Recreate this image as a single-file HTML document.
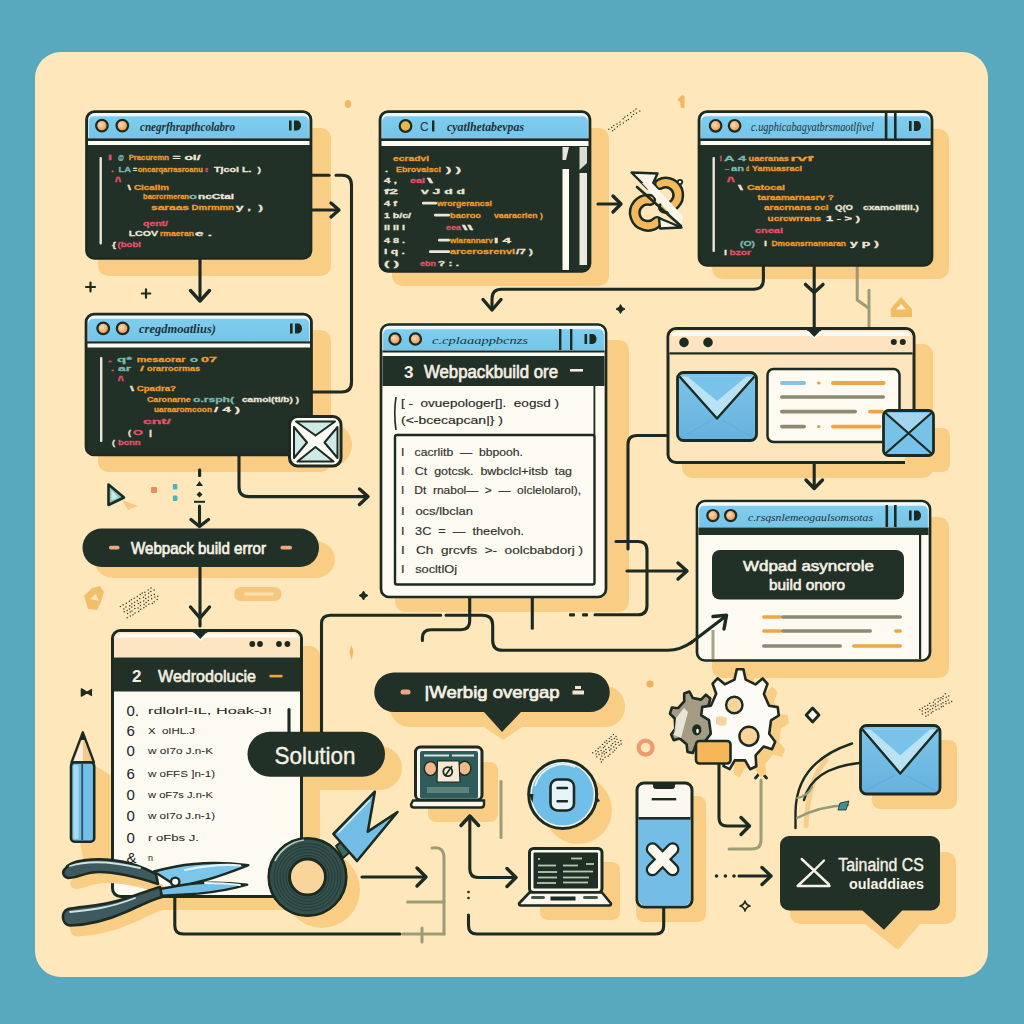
<!DOCTYPE html>
<html><head><meta charset="utf-8">
<style>
html,body{margin:0;padding:0;width:1024px;height:1024px;overflow:hidden;background:#58a8be;}
svg{position:absolute;left:0;top:0;}
text{font-family:"Liberation Sans",sans-serif;white-space:pre;}
</style></head>
<body>
<svg width="1024" height="1024" viewBox="0 0 1024 1024" xml:space="preserve">
<defs>
  <radialGradient id="dotg" cx="0.42" cy="0.42" r="0.65">
    <stop offset="0" stop-color="#f9dcb8"/><stop offset="1" stop-color="#e98636"/>
  </radialGradient>
  <linearGradient id="tb" x1="0" y1="0" x2="0" y2="1">
    <stop offset="0" stop-color="#80cdee"/><stop offset="1" stop-color="#74c5e8"/>
  </linearGradient>
  <linearGradient id="env" x1="0" y1="0" x2="0" y2="1">
    <stop offset="0" stop-color="#7cc5ea"/><stop offset="1" stop-color="#66b2dd"/>
  </linearGradient>
</defs>

<rect x="35" y="52" width="953" height="925" rx="26" fill="#fee8bb"/>
<g fill="#facd84">
<rect x="98" y="128" width="233" height="148" rx="10"/>
<rect x="392" y="128" width="217" height="158" rx="10"/>
<rect x="712" y="129" width="237" height="150" rx="10"/>
<rect x="98" y="330" width="233" height="142" rx="10"/>
<rect x="395" y="340" width="234" height="272" rx="10"/>
<rect x="682" y="344" width="251" height="134" rx="10"/>
<rect x="712" y="517" width="237" height="161" rx="10"/>
<rect x="94" y="541" width="241" height="37" rx="19"/>
<rect x="126" y="646" width="194" height="264" rx="10"/>
<rect x="390" y="686" width="235" height="41" rx="20"/>
<rect x="262" y="746" width="140" height="44" rx="22"/>
<rect x="790" y="852" width="166" height="72" rx="10"/>
<rect x="428" y="762" width="70" height="60" rx="8"/>
<rect x="636" y="796" width="70" height="126" rx="8"/>
<rect x="540" y="862" width="80" height="58" rx="8"/>
<rect x="872" y="740" width="85" height="69" rx="8"/>
<path d="M484 727 L503 740 L522 727 Z"/>
<path d="M865 924 L898 950 L920 924 Z"/>
<circle cx="578" cy="810" r="34"/>
<circle cx="330" cy="445" r="22"/>
<circle cx="322" cy="890" r="38"/>
</g>
<g fill="none" stroke="#1c2a21" stroke-width="3.1" stroke-linecap="round" stroke-linejoin="round">
<path d="M312 175.2 H329"/>
<path d="M336 175.2 H342 Q351.5 175.2 351.5 185 V382 Q351.5 392 341.5 392 H312"/>
<path d="M312 210 H338"/>
<path d="M200 259 V300"/>
<path d="M598 204 H620"/>
<path d="M763.4 266 V279.5 Q763.4 289.3 753.6 289.3 H501.5 Q492 289.3 492 299 V309"/>
<path d="M814.2 266 V327"/>
<path d="M239 456 V487 Q239 496.6 248.6 496.6 H367"/>
<path d="M199.5 506 V525"/>
<path d="M200 567 V626"/>
<path d="M469.7 597 V621 Q469.7 629.7 461 629.7 H431 Q422.4 629.7 422.4 638 V640.5"/>
<path d="M321.5 732 V624 Q321.5 615.3 330.5 615.3 H440.7"/>
<path d="M446 615.3 H482 Q492.7 615.3 492.7 625 V640.5 Q492.7 650.3 502.5 650.3 H668 Q680 650.3 692 642"/>
<path d="M667 435.5 H637 Q628 435.5 628 444.5 V549"/>
<path d="M616 541.5 H638 Q647 541.5 647 550.5 V605.5 Q647 614.8 638 614.8 H595"/>
<path d="M627 571 H686"/>
<path d="M814.2 463 V488"/>
<path d="M532.3 597.6 V628.3"/>
<path d="M469.8 816 V869 Q469.8 877.5 478.3 877.5 H515"/>
<path d="M362 877 H425"/>
<path d="M174.8 896.5 V925.5 Q174.8 934 183.3 934 H400"/>
<path d="M468.5 915 V925.5 Q468.5 934 477 934 H655.5 Q663.7 934 663.7 926 V906"/>
<path d="M719 764 V818 Q719 826 727 826 H748"/>
<path d="M739 876 H770"/>
</g>
<g fill="#1c2a21">
<rect x="198" y="468.5" width="3.2" height="8.5" rx="1.2"/>
<path d="M199.5 481 L203 486 L196 486 Z"/>
<path d="M199.5 491.5 L202.5 494.5 L199.5 497.5 L196.5 494.5 Z"/>
<rect x="194" y="500.8" width="11" height="2" />
<rect x="569" y="613.3" width="6" height="3.2" rx="1"/><rect x="582" y="613.3" width="6" height="3.2" rx="1"/>
<circle cx="716.5" cy="876" r="1.8"/><circle cx="725.4" cy="876" r="1.8"/><circle cx="734" cy="876" r="1.8"/>
<circle cx="468.5" cy="892" r="1.3"/><circle cx="468.5" cy="898" r="1.3"/>
</g>
<path d="M331 203 L339 210 L331 217" fill="none" stroke="#1c2a21" stroke-width="3.4" stroke-linecap="round" stroke-linejoin="round"/>
<path d="M190.5 290.5 L200 301 L209.5 290.5" fill="none" stroke="#1c2a21" stroke-width="3.4" stroke-linecap="round" stroke-linejoin="round"/>
<path d="M613 196 L621 204 L613 212" fill="none" stroke="#1c2a21" stroke-width="3.4" stroke-linecap="round" stroke-linejoin="round"/>
<path d="M483 299.5 L492 310 L501 299.5" fill="none" stroke="#1c2a21" stroke-width="3.4" stroke-linecap="round" stroke-linejoin="round"/>
<path d="M805.5 284.4 L814.2 292.5 L823 284.4" fill="none" stroke="#1c2a21" stroke-width="3.4" stroke-linecap="round" stroke-linejoin="round"/>
<path d="M359.5 489 L368 496.6 L359.5 504.5" fill="none" stroke="#1c2a21" stroke-width="3.4" stroke-linecap="round" stroke-linejoin="round"/>
<path d="M191 519.5 L199.5 526.5 L208.5 519.5" fill="none" stroke="#1c2a21" stroke-width="3.4" stroke-linecap="round" stroke-linejoin="round"/>
<path d="M190.5 607 L200 618 L209.5 607" fill="none" stroke="#1c2a21" stroke-width="3.4" stroke-linecap="round" stroke-linejoin="round"/>
<path d="M678 563 L687 571 L678 579" fill="none" stroke="#1c2a21" stroke-width="3.4" stroke-linecap="round" stroke-linejoin="round"/>
<path d="M806 480 L814.2 488.5 L822.5 480" fill="none" stroke="#1c2a21" stroke-width="3.4" stroke-linecap="round" stroke-linejoin="round"/>
<path d="M461 825.5 L469.8 816 L478.6 825.5" fill="none" stroke="#1c2a21" stroke-width="3.4" stroke-linecap="round" stroke-linejoin="round"/>
<path d="M507 868.5 L516 877.5 L507 886.5" fill="none" stroke="#1c2a21" stroke-width="3.4" stroke-linecap="round" stroke-linejoin="round"/>
<path d="M417 868 L426 877 L417 886" fill="none" stroke="#1c2a21" stroke-width="3.4" stroke-linecap="round" stroke-linejoin="round"/>
<path d="M741 817.5 L749.5 826 L741 834.5" fill="none" stroke="#1c2a21" stroke-width="3.4" stroke-linecap="round" stroke-linejoin="round"/>
<path d="M762 867.5 L771 876 L762 884.5" fill="none" stroke="#1c2a21" stroke-width="3.4" stroke-linecap="round" stroke-linejoin="round"/>
<g fill="none" stroke="#8d8f6e" stroke-width="3" stroke-linecap="round" stroke-linejoin="round" opacity="0.85">
<path d="M857.2 266 V300 L868.5 308"/><path d="M869 290.3 V328"/>
<path d="M432 848 Q444 846 444 858 V934"/><path d="M407.5 902 H444"/><path d="M403 934 H444"/><path d="M422 928 V942"/>
<path d="M501 781.5 V837.4"/>
<path d="M761 780 V840 Q761 849 752 849 H729"/>
</g>
<path d="M755.5 778 L761 771.7 L766.5 778" fill="none" stroke="#1c2a21" stroke-width="2.8" stroke-linecap="round" stroke-linejoin="round"/>
<rect x="86.5" y="111.5" width="224.5" height="147.0" rx="8" fill="#223128" stroke="#1c2a21" stroke-width="2.7"/>
<path d="M88.0 138.5 V119.5 a6.5 6.5 0 0 1 6.5 -6.5 H303.0 a6.5 6.5 0 0 1 6.5 6.5 V138.5 Z" fill="#eef8fc"/>
<path d="M88.6 138.5 V121.2 a5.0 5.0 0 0 1 5.0 -5.0 H303.9 a5.0 5.0 0 0 1 5.0 5.0 V138.5 Z" fill="url(#tb)"/>
<rect x="88.0" y="138.5" width="221.5" height="2" fill="#1c2a21"/>
<rect x="88.0" y="141" width="221.5" height="4" fill="#fdfaf1"/>
<circle cx="101.9" cy="125.6" r="5.8" fill="url(#dotg)" stroke="#1c2a21" stroke-width="2.2"/>
<circle cx="122.3" cy="125.6" r="5.8" fill="url(#dotg)" stroke="#1c2a21" stroke-width="2.2"/>
<text x="140" y="130.5" style="font-family:'Liberation Serif';font-size:11.5px;font-style:italic;font-weight:bold" fill="#1f3340" textLength="95" lengthAdjust="spacingAndGlyphs">cnegrfhrapthcolabro</text>
<rect x="289" y="120.5" width="2.6" height="10" fill="#1c2a21"/>
<path d="M294 120.5 h3 a4 5 0 0 1 0 10 h-3 Z" fill="#1c2a21"/>
<rect x="99.5" y="157" width="2.4" height="87.5" rx="1" fill="#ece6d6"/>
<text x="108" y="160.3" font-size="7.8" font-weight="bold" fill="#e5506a" stroke="#e5506a" stroke-width="0.3" textLength="4" lengthAdjust="spacingAndGlyphs">l</text>
<text x="118" y="160.3" font-size="7.8" font-weight="bold" fill="#79b8ae" stroke="#79b8ae" stroke-width="0.3" textLength="6" lengthAdjust="spacingAndGlyphs">@</text>
<text x="128.7" y="160.3" font-size="7.8" font-weight="bold" fill="#f09a2c" stroke="#f09a2c" stroke-width="0.3" textLength="40.30000000000001" lengthAdjust="spacingAndGlyphs">Pracuremn</text>
<text x="172.5" y="160.3" font-size="7.8" font-weight="bold" fill="#ece6d6" stroke="#ece6d6" stroke-width="0.3" textLength="28.0" lengthAdjust="spacingAndGlyphs">= ol/</text>
<text x="111" y="171.5" font-size="7.8" font-weight="bold" fill="#e5506a" stroke="#e5506a" stroke-width="0.3" textLength="3" lengthAdjust="spacingAndGlyphs">.</text>
<text x="118.6" y="171.5" font-size="7.8" font-weight="bold" fill="#79b8ae" stroke="#79b8ae" stroke-width="0.3" textLength="12.400000000000006" lengthAdjust="spacingAndGlyphs">LA</text>
<text x="133" y="171.5" font-size="7.8" font-weight="bold" fill="#ece6d6" stroke="#ece6d6" stroke-width="0.3" textLength="4" lengthAdjust="spacingAndGlyphs">=</text>
<text x="137.7" y="171.5" font-size="7.8" font-weight="bold" fill="#f09a2c" stroke="#f09a2c" stroke-width="0.3" textLength="65.10000000000002" lengthAdjust="spacingAndGlyphs">oncarqarrasroanu</text>
<text x="205" y="171.5" font-size="7.8" font-weight="bold" fill="#e5506a" stroke="#e5506a" stroke-width="0.3" textLength="3" lengthAdjust="spacingAndGlyphs">e</text>
<text x="214" y="171.5" font-size="7.8" font-weight="bold" fill="#ece6d6" stroke="#ece6d6" stroke-width="0.3" textLength="47" lengthAdjust="spacingAndGlyphs">Tjcol L.  )</text>
<text x="115" y="181.8" font-size="7.8" font-weight="bold" fill="#e5506a" stroke="#e5506a" stroke-width="0.3" textLength="6" lengthAdjust="spacingAndGlyphs">/\</text>
<text x="127.5" y="189.8" font-size="7.8" font-weight="bold" fill="#ece6d6" stroke="#ece6d6" stroke-width="0.3" textLength="3.5" lengthAdjust="spacingAndGlyphs">\</text>
<text x="134" y="189.8" font-size="7.8" font-weight="bold" fill="#f09a2c" stroke="#f09a2c" stroke-width="0.3" textLength="35" lengthAdjust="spacingAndGlyphs">Cicalim</text>
<text x="143" y="198.8" font-size="7.8" font-weight="bold" fill="#f09a2c" stroke="#f09a2c" stroke-width="0.3" textLength="46" lengthAdjust="spacingAndGlyphs">bacrcrmeran</text>
<text x="189" y="198.8" font-size="7.8" font-weight="bold" fill="#79b8ae" stroke="#79b8ae" stroke-width="0.3" textLength="8" lengthAdjust="spacingAndGlyphs">o</text>
<text x="198" y="198.8" font-size="7.8" font-weight="bold" fill="#ece6d6" stroke="#ece6d6" stroke-width="0.3" textLength="36" lengthAdjust="spacingAndGlyphs">ncCtal</text>
<text x="151" y="209.5" font-size="7.8" font-weight="bold" fill="#f09a2c" stroke="#f09a2c" stroke-width="0.3" textLength="38" lengthAdjust="spacingAndGlyphs">saraas</text>
<text x="191.6" y="209.5" font-size="7.8" font-weight="bold" fill="#f09a2c" stroke="#f09a2c" stroke-width="0.3" textLength="42.400000000000006" lengthAdjust="spacingAndGlyphs">Dmrmmn</text>
<text x="236" y="209.5" font-size="7.8" font-weight="bold" fill="#ece6d6" stroke="#ece6d6" stroke-width="0.3" textLength="27" lengthAdjust="spacingAndGlyphs">y ,  )</text>
<text x="143" y="225.5" font-size="7.8" font-weight="bold" fill="#e5506a" stroke="#e5506a" stroke-width="0.3" textLength="25" lengthAdjust="spacingAndGlyphs">qent/</text>
<text x="128.7" y="235.8" font-size="7.8" font-weight="bold" fill="#ece6d6" stroke="#ece6d6" stroke-width="0.3" textLength="29.30000000000001" lengthAdjust="spacingAndGlyphs">LCOV</text>
<text x="160" y="235.8" font-size="7.8" font-weight="bold" fill="#f09a2c" stroke="#f09a2c" stroke-width="0.3" textLength="34" lengthAdjust="spacingAndGlyphs">rmaeran</text>
<text x="195" y="235.8" font-size="7.8" font-weight="bold" fill="#ece6d6" stroke="#ece6d6" stroke-width="0.3" textLength="17" lengthAdjust="spacingAndGlyphs">e .</text>
<text x="112" y="246.60000000000002" font-size="7.8" font-weight="bold" fill="#ece6d6" stroke="#ece6d6" stroke-width="0.3" textLength="4" lengthAdjust="spacingAndGlyphs">{</text>
<text x="117.5" y="246.60000000000002" font-size="7.8" font-weight="bold" fill="#e5506a" stroke="#e5506a" stroke-width="0.3" textLength="23.5" lengthAdjust="spacingAndGlyphs">(bobl</text>
<rect x="380" y="111.5" width="210" height="160.0" rx="8" fill="#223128" stroke="#1c2a21" stroke-width="2.7"/>
<path d="M381.5 138.5 V119.5 a6.5 6.5 0 0 1 6.5 -6.5 H582.0 a6.5 6.5 0 0 1 6.5 6.5 V138.5 Z" fill="#eef8fc"/>
<path d="M382.1 138.5 V121.2 a5.0 5.0 0 0 1 5.0 -5.0 H582.9 a5.0 5.0 0 0 1 5.0 5.0 V138.5 Z" fill="url(#tb)"/>
<rect x="381.5" y="138.5" width="207" height="2" fill="#1c2a21"/>
<rect x="381.5" y="141" width="207" height="5" fill="#fdfaf1"/>
<circle cx="405.5" cy="126" r="5.8" fill="#e8b84a" stroke="#1c2a21" stroke-width="2.2"/>
<text x="420" y="131" style="font-family:'Liberation Sans';font-size:12px;font-style:normal;font-weight:normal" fill="#1f3340">C</text>
<rect x="432" y="120.5" width="2.4" height="11" fill="#1c2a21"/>
<text x="447" y="131" style="font-family:'Liberation Serif';font-size:11.5px;font-style:italic;font-weight:bold" fill="#1f3340" textLength="77" lengthAdjust="spacingAndGlyphs">cyatlhetabevpas</text>
<rect x="562.5" y="169" width="6.5" height="101" fill="#fdfaf1"/>
<path d="M562.5 147 H569 L566 160 H562.5 Z" fill="#fdfaf1" opacity="0.9"/>
<rect x="579.5" y="173" width="7.5" height="92" fill="#fdfaf1" opacity="0.92"/>
<path d="M579.5 147 H587 V163 L579.5 170 Z" fill="#fdfaf1" opacity="0.85"/>
<text x="393" y="160.5" font-size="7.8" font-weight="bold" fill="#f09a2c" stroke="#f09a2c" stroke-width="0.3" textLength="36" lengthAdjust="spacingAndGlyphs">ecradvl</text>
<text x="385" y="171.8" font-size="7.8" font-weight="bold" fill="#ece6d6" stroke="#ece6d6" stroke-width="0.3" textLength="3" lengthAdjust="spacingAndGlyphs">.</text>
<text x="396" y="171.8" font-size="7.8" font-weight="bold" fill="#f09a2c" stroke="#f09a2c" stroke-width="0.3" textLength="45" lengthAdjust="spacingAndGlyphs">Ebrovalscl</text>
<text x="446" y="171.8" font-size="7.8" font-weight="bold" fill="#ece6d6" stroke="#ece6d6" stroke-width="0.3" textLength="15" lengthAdjust="spacingAndGlyphs">) )</text>
<text x="384" y="182.8" font-size="7.8" font-weight="bold" fill="#ece6d6" stroke="#ece6d6" stroke-width="0.3" textLength="13" lengthAdjust="spacingAndGlyphs">4 ,</text>
<text x="410" y="182.8" font-size="7.8" font-weight="bold" fill="#e5506a" stroke="#e5506a" stroke-width="0.3" textLength="15" lengthAdjust="spacingAndGlyphs">eal</text>
<text x="427" y="182.8" font-size="7.8" font-weight="bold" fill="#ece6d6" stroke="#ece6d6" stroke-width="0.3" textLength="6" lengthAdjust="spacingAndGlyphs">\</text>
<text x="384" y="193.8" font-size="7.8" font-weight="bold" fill="#ece6d6" stroke="#ece6d6" stroke-width="0.3" textLength="14" lengthAdjust="spacingAndGlyphs">f2</text>
<text x="421" y="193.8" font-size="7.8" font-weight="bold" fill="#ece6d6" stroke="#ece6d6" stroke-width="0.3" textLength="44" lengthAdjust="spacingAndGlyphs">v J d d</text>
<text x="384" y="205.8" font-size="7.8" font-weight="bold" fill="#ece6d6" stroke="#ece6d6" stroke-width="0.3" textLength="13" lengthAdjust="spacingAndGlyphs">4 f</text>
<rect x="422" y="201.8" width="15" height="2.6" rx="1.2" fill="#ece6d6"/>
<text x="437" y="205.8" font-size="7.8" font-weight="bold" fill="#f09a2c" stroke="#f09a2c" stroke-width="0.3" textLength="55" lengthAdjust="spacingAndGlyphs">wrorgerancsl</text>
<text x="384" y="217.8" font-size="7.8" font-weight="bold" fill="#ece6d6" stroke="#ece6d6" stroke-width="0.3" textLength="27" lengthAdjust="spacingAndGlyphs">1 b/c/</text>
<rect x="434" y="213.8" width="16" height="2.6" rx="1.2" fill="#ece6d6"/>
<text x="450" y="217.8" font-size="7.8" font-weight="bold" fill="#f09a2c" stroke="#f09a2c" stroke-width="0.3" textLength="31" lengthAdjust="spacingAndGlyphs">bacroo</text>
<text x="494" y="217.8" font-size="7.8" font-weight="bold" fill="#f09a2c" stroke="#f09a2c" stroke-width="0.3" textLength="49" lengthAdjust="spacingAndGlyphs">vaaracrien )</text>
<text x="384" y="229.8" font-size="7.8" font-weight="bold" fill="#ece6d6" stroke="#ece6d6" stroke-width="0.3" textLength="21" lengthAdjust="spacingAndGlyphs">ii ii i</text>
<text x="446" y="229.8" font-size="7.8" font-weight="bold" fill="#e5506a" stroke="#e5506a" stroke-width="0.3" textLength="15" lengthAdjust="spacingAndGlyphs">eea</text>
<text x="462" y="229.8" font-size="7.8" font-weight="bold" fill="#ece6d6" stroke="#ece6d6" stroke-width="0.3" textLength="11" lengthAdjust="spacingAndGlyphs">\\</text>
<text x="384" y="242.8" font-size="7.8" font-weight="bold" fill="#ece6d6" stroke="#ece6d6" stroke-width="0.3" textLength="21" lengthAdjust="spacingAndGlyphs">4 8 .</text>
<rect x="438" y="238.8" width="12" height="2.6" rx="1.2" fill="#ece6d6"/>
<text x="450" y="242.8" font-size="7.8" font-weight="bold" fill="#f09a2c" stroke="#f09a2c" stroke-width="0.3" textLength="43" lengthAdjust="spacingAndGlyphs">wiarannarv</text>
<text x="494" y="242.8" font-size="7.8" font-weight="bold" fill="#ece6d6" stroke="#ece6d6" stroke-width="0.3" textLength="17" lengthAdjust="spacingAndGlyphs">I 4</text>
<text x="384" y="254.3" font-size="7.8" font-weight="bold" fill="#ece6d6" stroke="#ece6d6" stroke-width="0.3" textLength="21" lengthAdjust="spacingAndGlyphs">i q .</text>
<rect x="429" y="250.3" width="21" height="2.6" rx="1.2" fill="#ece6d6"/>
<text x="450" y="254.3" font-size="7.8" font-weight="bold" fill="#f09a2c" stroke="#f09a2c" stroke-width="0.3" textLength="65" lengthAdjust="spacingAndGlyphs">arcerosrenvl</text>
<text x="516" y="254.3" font-size="7.8" font-weight="bold" fill="#ece6d6" stroke="#ece6d6" stroke-width="0.3" textLength="17" lengthAdjust="spacingAndGlyphs">/7 )</text>
<text x="384" y="265.8" font-size="7.8" font-weight="bold" fill="#ece6d6" stroke="#ece6d6" stroke-width="0.3" textLength="15" lengthAdjust="spacingAndGlyphs">( )</text>
<text x="420" y="265.8" font-size="7.8" font-weight="bold" fill="#e5506a" stroke="#e5506a" stroke-width="0.3" textLength="16" lengthAdjust="spacingAndGlyphs">ebn</text>
<text x="438" y="265.8" font-size="7.8" font-weight="bold" fill="#ece6d6" stroke="#ece6d6" stroke-width="0.3" textLength="21" lengthAdjust="spacingAndGlyphs">? : .</text>
<rect x="699" y="111.5" width="233" height="154.0" rx="8" fill="#223128" stroke="#1c2a21" stroke-width="2.7"/>
<path d="M700.5 138.5 V119.5 a6.5 6.5 0 0 1 6.5 -6.5 H924.0 a6.5 6.5 0 0 1 6.5 6.5 V138.5 Z" fill="#eef8fc"/>
<path d="M701.1 138.5 V121.2 a5.0 5.0 0 0 1 5.0 -5.0 H924.9 a5.0 5.0 0 0 1 5.0 5.0 V138.5 Z" fill="url(#tb)"/>
<rect x="700.5" y="138.5" width="230" height="2" fill="#1c2a21"/>
<rect x="700.5" y="141" width="230" height="4" fill="#fdfaf1"/>
<circle cx="715.6" cy="125.8" r="5.8" fill="url(#dotg)" stroke="#1c2a21" stroke-width="2.2"/>
<circle cx="734.6" cy="125.8" r="5.8" fill="url(#dotg)" stroke="#1c2a21" stroke-width="2.2"/>
<text x="751" y="131" style="font-family:'Liberation Serif';font-size:11.5px;font-style:italic;font-weight:normal" fill="#1f3340" textLength="123" lengthAdjust="spacingAndGlyphs">c.ugphicabagyatbrsmaotlfivel</text>
<rect x="884.8" y="113" width="2.6" height="26" fill="#1c2a21"/><rect x="894" y="113" width="2.6" height="26" fill="#1c2a21"/>
<rect x="909" y="121" width="2.6" height="10" fill="#1c2a21"/>
<path d="M914 121 h3 a4 5 0 0 1 0 10 h-3 Z" fill="#1c2a21"/>
<rect x="712.5" y="157" width="2.4" height="95" rx="1" fill="#ece6d6"/>
<text x="719.5" y="160.8" font-size="7.8" font-weight="bold" fill="#e5506a" stroke="#e5506a" stroke-width="0.3" textLength="2.5" lengthAdjust="spacingAndGlyphs">!</text>
<text x="724" y="160.8" font-size="7.8" font-weight="bold" fill="#79b8ae" stroke="#79b8ae" stroke-width="0.3" textLength="22" lengthAdjust="spacingAndGlyphs">A 4</text>
<text x="748.6" y="160.8" font-size="7.8" font-weight="bold" fill="#f09a2c" stroke="#f09a2c" stroke-width="0.3" textLength="40.39999999999998" lengthAdjust="spacingAndGlyphs">uaeranas</text>
<text x="790.5" y="160.8" font-size="7.8" font-weight="bold" fill="#f09a2c" stroke="#f09a2c" stroke-width="0.3" textLength="22.5" lengthAdjust="spacingAndGlyphs">rvf</text>
<text x="724.5" y="170.8" font-size="7.8" font-weight="bold" fill="#e5506a" stroke="#e5506a" stroke-width="0.3" textLength="5.0" lengthAdjust="spacingAndGlyphs">-</text>
<text x="731" y="170.8" font-size="7.8" font-weight="bold" fill="#79b8ae" stroke="#79b8ae" stroke-width="0.3" textLength="13" lengthAdjust="spacingAndGlyphs">an</text>
<text x="746" y="170.8" font-size="7.8" font-weight="bold" fill="#f09a2c" stroke="#f09a2c" stroke-width="0.3" textLength="3" lengthAdjust="spacingAndGlyphs">d</text>
<text x="752" y="170.8" font-size="7.8" font-weight="bold" fill="#f09a2c" stroke="#f09a2c" stroke-width="0.3" textLength="50" lengthAdjust="spacingAndGlyphs">Yamuasracl</text>
<text x="727" y="182.4" font-size="7.8" font-weight="bold" fill="#e5506a" stroke="#e5506a" stroke-width="0.3" textLength="7.600000000000023" lengthAdjust="spacingAndGlyphs">/\</text>
<text x="738" y="189.8" font-size="7.8" font-weight="bold" fill="#ece6d6" stroke="#ece6d6" stroke-width="0.3" textLength="5" lengthAdjust="spacingAndGlyphs">\</text>
<text x="747" y="189.8" font-size="7.8" font-weight="bold" fill="#f09a2c" stroke="#f09a2c" stroke-width="0.3" textLength="38" lengthAdjust="spacingAndGlyphs">Catocal</text>
<text x="757.5" y="199.8" font-size="7.8" font-weight="bold" fill="#f09a2c" stroke="#f09a2c" stroke-width="0.3" textLength="76.20000000000005" lengthAdjust="spacingAndGlyphs">taraamarnasrv ?</text>
<text x="764" y="210.4" font-size="7.8" font-weight="bold" fill="#f09a2c" stroke="#f09a2c" stroke-width="0.3" textLength="64.60000000000002" lengthAdjust="spacingAndGlyphs">aracrnans ocl</text>
<text x="835" y="210.4" font-size="7.8" font-weight="bold" fill="#ece6d6" stroke="#ece6d6" stroke-width="0.3" textLength="18" lengthAdjust="spacingAndGlyphs">Q(O</text>
<text x="863" y="210.4" font-size="7.8" font-weight="bold" fill="#ece6d6" stroke="#ece6d6" stroke-width="0.3" textLength="56" lengthAdjust="spacingAndGlyphs">cxamolltlil.)</text>
<text x="767.6" y="220.5" font-size="7.8" font-weight="bold" fill="#f09a2c" stroke="#f09a2c" stroke-width="0.3" textLength="53.39999999999998" lengthAdjust="spacingAndGlyphs">ucrcwrrans</text>
<text x="826" y="220.5" font-size="7.8" font-weight="bold" fill="#ece6d6" stroke="#ece6d6" stroke-width="0.3" textLength="34" lengthAdjust="spacingAndGlyphs">1 - > )</text>
<text x="755" y="233.20000000000002" font-size="7.8" font-weight="bold" fill="#e5506a" stroke="#e5506a" stroke-width="0.3" textLength="28" lengthAdjust="spacingAndGlyphs">cneal</text>
<text x="740" y="245.8" font-size="7.8" font-weight="bold" fill="#79b8ae" stroke="#79b8ae" stroke-width="0.3" textLength="15" lengthAdjust="spacingAndGlyphs">(O)</text>
<text x="764" y="245.8" font-size="7.8" font-weight="bold" fill="#ece6d6" stroke="#ece6d6" stroke-width="0.3" textLength="3" lengthAdjust="spacingAndGlyphs">l</text>
<text x="771.5" y="245.8" font-size="7.8" font-weight="bold" fill="#f09a2c" stroke="#f09a2c" stroke-width="0.3" textLength="74.5" lengthAdjust="spacingAndGlyphs">Dmoansrnannaran</text>
<text x="850" y="245.8" font-size="7.8" font-weight="bold" fill="#ece6d6" stroke="#ece6d6" stroke-width="0.3" textLength="29" lengthAdjust="spacingAndGlyphs">y p )</text>
<text x="724" y="254.8" font-size="7.8" font-weight="bold" fill="#ece6d6" stroke="#ece6d6" stroke-width="0.3" textLength="3" lengthAdjust="spacingAndGlyphs">i</text>
<text x="729.5" y="254.8" font-size="7.8" font-weight="bold" fill="#e5506a" stroke="#e5506a" stroke-width="0.3" textLength="21.5" lengthAdjust="spacingAndGlyphs">bzor</text>
<rect x="86" y="314" width="225.5" height="141" rx="8" fill="#223128" stroke="#1c2a21" stroke-width="2.7"/>
<path d="M87.5 341.5 V322.0 a6.5 6.5 0 0 1 6.5 -6.5 H303.5 a6.5 6.5 0 0 1 6.5 6.5 V341.5 Z" fill="#eef8fc"/>
<path d="M88.1 341.5 V323.7 a5.0 5.0 0 0 1 5.0 -5.0 H304.4 a5.0 5.0 0 0 1 5.0 5.0 V341.5 Z" fill="url(#tb)"/>
<rect x="87.5" y="341.5" width="222.5" height="2" fill="#1c2a21"/>
<rect x="87.5" y="343.5" width="222.5" height="4.0" fill="#fdfaf1"/>
<circle cx="103.2" cy="328.4" r="5.8" fill="url(#dotg)" stroke="#1c2a21" stroke-width="2.2"/>
<circle cx="122.7" cy="328.4" r="5.8" fill="url(#dotg)" stroke="#1c2a21" stroke-width="2.2"/>
<text x="139" y="333" style="font-family:'Liberation Serif';font-size:11.5px;font-style:italic;font-weight:bold" fill="#1f3340" textLength="77" lengthAdjust="spacingAndGlyphs">cregdmoatlius)</text>
<rect x="290" y="323.5" width="2.6" height="10" fill="#1c2a21"/>
<path d="M295 323.5 h3 a4 5 0 0 1 0 10 h-3 Z" fill="#1c2a21"/>
<rect x="100" y="357" width="2.4" height="85" rx="1" fill="#ece6d6"/>
<text x="108" y="361.5" font-size="7.8" font-weight="bold" fill="#e5506a" stroke="#e5506a" stroke-width="0.3" textLength="4" lengthAdjust="spacingAndGlyphs">.</text>
<text x="117" y="361.5" font-size="7.8" font-weight="bold" fill="#79b8ae" stroke="#79b8ae" stroke-width="0.3" textLength="15" lengthAdjust="spacingAndGlyphs">q*</text>
<text x="136.7" y="361.5" font-size="7.8" font-weight="bold" fill="#f09a2c" stroke="#f09a2c" stroke-width="0.3" textLength="48.80000000000001" lengthAdjust="spacingAndGlyphs">mesaorar</text>
<text x="190" y="361.5" font-size="7.8" font-weight="bold" fill="#79b8ae" stroke="#79b8ae" stroke-width="0.3" textLength="8" lengthAdjust="spacingAndGlyphs">o</text>
<text x="201" y="361.5" font-size="7.8" font-weight="bold" fill="#f09a2c" stroke="#f09a2c" stroke-width="0.3" textLength="16" lengthAdjust="spacingAndGlyphs">07</text>
<text x="111" y="371.3" font-size="7.8" font-weight="bold" fill="#e5506a" stroke="#e5506a" stroke-width="0.3" textLength="3" lengthAdjust="spacingAndGlyphs">.</text>
<text x="118" y="371.3" font-size="7.8" font-weight="bold" fill="#79b8ae" stroke="#79b8ae" stroke-width="0.3" textLength="13" lengthAdjust="spacingAndGlyphs">ar</text>
<text x="140" y="371.3" font-size="7.8" font-weight="bold" fill="#f09a2c" stroke="#f09a2c" stroke-width="0.3" textLength="4" lengthAdjust="spacingAndGlyphs">/</text>
<text x="147" y="371.3" font-size="7.8" font-weight="bold" fill="#f09a2c" stroke="#f09a2c" stroke-width="0.3" textLength="53" lengthAdjust="spacingAndGlyphs">orarrocrmas</text>
<text x="118" y="381.3" font-size="7.8" font-weight="bold" fill="#e5506a" stroke="#e5506a" stroke-width="0.3" textLength="5.5" lengthAdjust="spacingAndGlyphs">/\</text>
<text x="130" y="390.8" font-size="7.8" font-weight="bold" fill="#ece6d6" stroke="#ece6d6" stroke-width="0.3" textLength="4" lengthAdjust="spacingAndGlyphs">\</text>
<text x="136.7" y="390.8" font-size="7.8" font-weight="bold" fill="#f09a2c" stroke="#f09a2c" stroke-width="0.3" textLength="39.30000000000001" lengthAdjust="spacingAndGlyphs">Cpadra?</text>
<text x="147" y="401.6" font-size="7.8" font-weight="bold" fill="#f09a2c" stroke="#f09a2c" stroke-width="0.3" textLength="43.69999999999999" lengthAdjust="spacingAndGlyphs">Caronarne</text>
<text x="193" y="401.6" font-size="7.8" font-weight="bold" fill="#79b8ae" stroke="#79b8ae" stroke-width="0.3" textLength="41" lengthAdjust="spacingAndGlyphs">o.rsph(</text>
<text x="242" y="401.6" font-size="7.8" font-weight="bold" fill="#ece6d6" stroke="#ece6d6" stroke-width="0.3" textLength="57" lengthAdjust="spacingAndGlyphs">camol(tl/b) )</text>
<text x="154" y="411.8" font-size="7.8" font-weight="bold" fill="#f09a2c" stroke="#f09a2c" stroke-width="0.3" textLength="58" lengthAdjust="spacingAndGlyphs">uaraaromcoon</text>
<text x="214" y="411.8" font-size="7.8" font-weight="bold" fill="#ece6d6" stroke="#ece6d6" stroke-width="0.3" textLength="26" lengthAdjust="spacingAndGlyphs">/ 4 )</text>
<text x="143" y="423.8" font-size="7.8" font-weight="bold" fill="#e5506a" stroke="#e5506a" stroke-width="0.3" textLength="28" lengthAdjust="spacingAndGlyphs">cnt/</text>
<text x="128" y="434.6" font-size="7.8" font-weight="bold" fill="#ece6d6" stroke="#ece6d6" stroke-width="0.3" textLength="3" lengthAdjust="spacingAndGlyphs">(</text>
<text x="133" y="434.6" font-size="7.8" font-weight="bold" fill="#e5506a" stroke="#e5506a" stroke-width="0.3" textLength="10" lengthAdjust="spacingAndGlyphs">O</text>
<text x="149" y="434.6" font-size="7.8" font-weight="bold" fill="#ece6d6" stroke="#ece6d6" stroke-width="0.3" textLength="3" lengthAdjust="spacingAndGlyphs">|</text>
<text x="112" y="445.1" font-size="7.8" font-weight="bold" fill="#ece6d6" stroke="#ece6d6" stroke-width="0.3" textLength="3" lengthAdjust="spacingAndGlyphs">(</text>
<text x="118" y="445.1" font-size="7.8" font-weight="bold" fill="#e5506a" stroke="#e5506a" stroke-width="0.3" textLength="22.599999999999994" lengthAdjust="spacingAndGlyphs">bcnn</text>
<rect x="381" y="324.5" width="225" height="272.5" rx="8" fill="#fdfaf1" stroke="#1c2a21" stroke-width="2.7"/>
<path d="M382.5 350.5 V332.5 a6.5 6.5 0 0 1 6.5 -6.5 H598.0 a6.5 6.5 0 0 1 6.5 6.5 V350.5 Z" fill="#eef8fc"/>
<path d="M383.1 350.5 V334.2 a5.0 5.0 0 0 1 5.0 -5.0 H598.9 a5.0 5.0 0 0 1 5.0 5.0 V350.5 Z" fill="url(#tb)"/>
<rect x="382.5" y="350.5" width="222" height="2" fill="#1c2a21"/>
<rect x="382.5" y="356" width="222" height="30" fill="#223128"/>
<circle cx="395" cy="339" r="5.6" fill="url(#dotg)" stroke="#1c2a21" stroke-width="2.2"/>
<circle cx="415.4" cy="339" r="5.6" fill="url(#dotg)" stroke="#1c2a21" stroke-width="2.2"/>
<text x="432" y="343.5" style="font-family:'Liberation Serif';font-size:11px;font-style:italic;font-weight:normal" fill="#1f3340" textLength="96" lengthAdjust="spacingAndGlyphs">c.cplaaappbcnzs</text>
<rect x="559" y="329" width="2.4" height="21" fill="#1c2a21"/><rect x="570" y="329" width="2.4" height="21" fill="#1c2a21"/>
<rect x="584.5" y="334" width="2.6" height="10" fill="#1c2a21"/>
<path d="M589.5 334 h3 a4 5 0 0 1 0 10 h-3 Z" fill="#1c2a21"/>
<text x="404" y="377.5" style="font-family:'Liberation Sans';font-size:17px;font-weight:bold" fill="#f4efe2">3</text>
<text x="424" y="377.5" style="font-family:'Liberation Sans';font-size:18px" fill="#f4efe2" stroke="#f4efe2" stroke-width="0.7" textLength="134" lengthAdjust="spacingAndGlyphs">Webpackbuild ore</text>
<rect x="570" y="369" width="13" height="2.6" fill="#f4efe2"/>
<path d="M396 397 Q393.5 413 396 430" fill="none" stroke="#1c2a21" stroke-width="1.6"/>
<rect x="593.5" y="386" width="1.8" height="50" fill="#1c2a21"/>
<text x="401" y="407" style="font-family:'Liberation Sans';font-size:11px" fill="#2a2a22" stroke="#2a2a22" stroke-width="0.15" textLength="158" lengthAdjust="spacingAndGlyphs">[ -  ovuepologer[].  eogsd )</text>
<text x="401" y="423.5" style="font-family:'Liberation Sans';font-size:11px" fill="#2a2a22" stroke="#2a2a22" stroke-width="0.15" textLength="102" lengthAdjust="spacingAndGlyphs">(&lt;-bcecapcan|} )</text>
<rect x="395" y="435" width="199.5" height="149.5" rx="2" fill="#fdfaf1" stroke="#1c2a21" stroke-width="2.4"/>
<text x="401" y="456.1" style="font-family:'Liberation Sans';font-size:10.5px" fill="#30302a" stroke="#30302a" stroke-width="0.15" textLength="122" lengthAdjust="spacingAndGlyphs">I   cacrlitb  —  bbpooh.</text>
<text x="401" y="474.8" style="font-family:'Liberation Sans';font-size:10.5px" fill="#30302a" stroke="#30302a" stroke-width="0.15" textLength="171" lengthAdjust="spacingAndGlyphs">I   Ct  gotcsk.  bwbclcl+itsb  tag</text>
<text x="401" y="493.5" style="font-family:'Liberation Sans';font-size:10.5px" fill="#30302a" stroke="#30302a" stroke-width="0.15" textLength="180" lengthAdjust="spacingAndGlyphs">I   Dt  rnabol—  >  —  olclelolarol),</text>
<text x="401" y="514.8" style="font-family:'Liberation Sans';font-size:10.5px" fill="#30302a" stroke="#30302a" stroke-width="0.15" textLength="72" lengthAdjust="spacingAndGlyphs">I   ocs/lbclan</text>
<text x="401" y="535.4" style="font-family:'Liberation Sans';font-size:10.5px" fill="#30302a" stroke="#30302a" stroke-width="0.15" textLength="123" lengthAdjust="spacingAndGlyphs">I   3C  =  —  theelvoh.</text>
<text x="401" y="553.8" style="font-family:'Liberation Sans';font-size:10.5px" fill="#30302a" stroke="#30302a" stroke-width="0.15" textLength="182" lengthAdjust="spacingAndGlyphs">I   Ch  grcvfs  >-  oolcbabdorj )</text>
<text x="401" y="572.8" style="font-family:'Liberation Sans';font-size:10.5px" fill="#30302a" stroke="#30302a" stroke-width="0.15" textLength="56" lengthAdjust="spacingAndGlyphs">I   socltlOj</text>
<rect x="668" y="328.5" width="246" height="134" rx="8" fill="#fde6bd" stroke="#1c2a21" stroke-width="3"/>
<path d="M669.5 352.5 V336.5 a6.5 6.5 0 0 1 6.5 -6.5 H906.0 a6.5 6.5 0 0 1 6.5 6.5 V352.5 Z" fill="#fde3c0"/>
<path d="M672 334 Q674 331.5 678 331.5 H904 Q908 331.5 910 334 V336 H672 Z" fill="#fffaf0"/>
<rect x="669.5" y="352.3" width="243" height="2.2" fill="#1c2a21"/>
<circle cx="684" cy="342.4" r="4.8" fill="#1c2a21"/><circle cx="708" cy="342.4" r="4.8" fill="#1c2a21"/>
<circle cx="893.8" cy="342" r="3" fill="#1c2a21"/><circle cx="902.8" cy="342" r="3" fill="#1c2a21"/>
<path d="M805 328 L814.2 338 L823.5 328 Z" fill="#1c2a21"/>
<path d="M808 331.5 L814.2 338 L820.5 331.5" fill="none" stroke="#fff" stroke-width="1.5"/>
<rect x="677.5" y="372.5" width="79.0" height="68.0" rx="6" fill="url(#env)" stroke="#1c2a21" stroke-width="2.8"/>
<path d="M680.5 376.5 L717.0 418.5 L753.5 376.5 Z" fill="#b9e3f5"/>
<path d="M687.5 376.5 L717.0 401.02 L746.5 376.5 Z" fill="#79c2ea"/>
<path d="M679.5 376.5 L717.0 418.5 L754.5 376.5" fill="none" stroke="#1c2a21" stroke-width="2.4" stroke-linejoin="round"/>
<path d="M681.5 437.5 L711.0 420.5 M752.5 437.5 L723.0 420.5" stroke="#5aa6d3" stroke-width="1" opacity="0.6"/>
<rect x="767.5" y="369" width="132" height="73" rx="6" fill="#fdfaf1" stroke="#1c2a21" stroke-width="2.5"/>
<rect x="780" y="381.0" width="26" height="4" rx="2.0" fill="#84c4e2"/>
<rect x="817" y="381.5" width="3.5" height="3" rx="1.5" fill="#e0a050"/>
<rect x="831" y="381.0" width="54.60000000000002" height="4" rx="2.0" fill="#eea644"/>
<rect x="780" y="395.2" width="105" height="3.6" rx="1.8" fill="#8c8a72"/>
<rect x="780" y="409.8" width="77" height="3.6" rx="1.8" fill="#8c8a72"/>
<rect x="868" y="409.8" width="16" height="3.6" rx="1.8" fill="#eea644"/>
<rect x="780" y="424.8" width="26" height="3.6" rx="1.8" fill="#8c8a72"/>
<rect x="817" y="425.1" width="3.5" height="3" rx="1.5" fill="#e0a050"/>
<rect x="831" y="424.8" width="50.5" height="3.6" rx="1.8" fill="#eea644"/>
<rect x="905" y="428" width="45" height="44" rx="8" fill="#facd84"/>
<rect x="883.5" y="410.5" width="50" height="45" rx="5" fill="#78c1e8" stroke="#1c2a21" stroke-width="2.8"/>
<path d="M886 413 L908.5 433 L931 413 Z" fill="#a2d6f0"/>
<path d="M885.5 413 L931.5 453.5 M931.5 413 L885.5 453.5" stroke="#1c2a21" stroke-width="2.2"/>
<rect x="697" y="501" width="233" height="159.5" rx="8" fill="#fdfaf1" stroke="#1c2a21" stroke-width="2.7"/>
<path d="M698.5 527.5 V509.0 a6.5 6.5 0 0 1 6.5 -6.5 H922.0 a6.5 6.5 0 0 1 6.5 6.5 V527.5 Z" fill="#eef8fc"/>
<path d="M699.1 527.5 V510.7 a5.0 5.0 0 0 1 5.0 -5.0 H922.9 a5.0 5.0 0 0 1 5.0 5.0 V527.5 Z" fill="url(#tb)"/>
<rect x="698.5" y="527.5" width="230" height="7.5" fill="#223128"/>
<circle cx="712.9" cy="515.6" r="5.6" fill="url(#dotg)" stroke="#1c2a21" stroke-width="2.2"/>
<circle cx="730.6" cy="515.6" r="5.6" fill="url(#dotg)" stroke="#1c2a21" stroke-width="2.2"/>
<text x="748" y="520.5" style="font-family:'Liberation Serif';font-size:11px;font-style:italic;font-weight:normal" fill="#1f3340" textLength="125" lengthAdjust="spacingAndGlyphs">c.rsqsnlemeogaulsomsotas</text>
<rect x="885.5" y="505" width="2.6" height="22" fill="#1c2a21"/><rect x="894" y="505" width="2.6" height="22" fill="#1c2a21"/>
<rect x="909" y="510.5" width="2.6" height="10" fill="#1c2a21"/>
<path d="M914 510.5 h3 a4 5 0 0 1 0 10 h-3 Z" fill="#1c2a21"/>
<rect x="919" y="535" width="2.2" height="124" fill="#1c2a21"/>
<rect x="712" y="550" width="192" height="49.5" rx="8" fill="#223128"/>
<text x="743" y="570.5" style="font-family:'Liberation Sans';font-size:15px" fill="#f6f1e4" stroke="#f6f1e4" stroke-width="0.6" textLength="131" lengthAdjust="spacingAndGlyphs">Wdpad asyncrole</text>
<text x="769" y="589.5" style="font-family:'Liberation Sans';font-size:15px" fill="#f6f1e4" stroke="#f6f1e4" stroke-width="0.6" textLength="76" lengthAdjust="spacingAndGlyphs">build onoro</text>
<rect x="762" y="615.2" width="20" height="3.6" rx="1.8" fill="#eea644"/>
<rect x="781" y="615.2" width="121" height="3.6" rx="1.8" fill="#8c8a72"/>
<rect x="762" y="629.2" width="20" height="3.6" rx="1.8" fill="#eea644"/>
<rect x="781" y="629.2" width="91" height="3.6" rx="1.8" fill="#8c8a72"/>
<rect x="894" y="629.2" width="8" height="3.6" rx="1.8" fill="#eea644"/>
<rect x="762" y="644.2" width="80" height="3.6" rx="1.8" fill="#8c8a72"/>
<rect x="852" y="644.2" width="50" height="3.6" rx="1.8" fill="#eea644"/>
<path d="M713 630 V659" stroke="#8d8f6e" stroke-width="3" opacity="0.8"/>
<path d="M690 643.5 L726 616" fill="none" stroke="#1c2a21" stroke-width="3.1" stroke-linecap="round"/>
<path d="M713 616.5 L726.5 615.2 L724 629" fill="none" stroke="#1c2a21" stroke-width="3.4" stroke-linecap="round" stroke-linejoin="round"/>
<rect x="112.5" y="630.5" width="189" height="266" rx="8" fill="#fdfaf1" stroke="#1c2a21" stroke-width="3"/>
<path d="M114 657.5 V638.5 a6.5 6.5 0 0 1 6.5 -6.5 H293.5 a6.5 6.5 0 0 1 6.5 6.5 V657.5 Z" fill="#fde5c2"/>
<path d="M116.5 636 Q118 633.5 122 633.5 H292 Q296 633.5 297.5 636 V637.5 H116.5 Z" fill="#fffaf0"/>
<rect x="114" y="657.5" width="186" height="34" fill="#223128"/>
<path d="M191 630 L200.3 640 L209.5 630 Z" fill="#1c2a21"/>
<path d="M194 633.5 L200.3 640 L206.5 633.5" fill="none" stroke="#fff" stroke-width="1.5"/>
<circle cx="252.3" cy="644" r="2.9" fill="#1c2a21"/>
<circle cx="260" cy="644" r="2.9" fill="#1c2a21"/>
<circle cx="279" cy="644" r="2.9" fill="#1c2a21"/>
<circle cx="287.4" cy="644" r="2.9" fill="#1c2a21"/>
<text x="132" y="681.5" style="font-family:'Liberation Sans';font-size:17px;font-weight:bold" fill="#f4efe2">2</text>
<text x="158" y="681.5" style="font-family:'Liberation Sans';font-size:16px" fill="#f4efe2" stroke="#f4efe2" stroke-width="0.6" textLength="98" lengthAdjust="spacingAndGlyphs">Wedrodolucie</text>
<rect x="269.5" y="674.8" width="13" height="2.6" fill="#eea644"/>
<text x="126.5" y="715.5" style="font-family:'Liberation Sans';font-size:15px" fill="#22221c">0.</text>
<text x="148" y="713.5" style="font-family:'Liberation Sans';font-size:9.5px" fill="#2a2a22" stroke="#2a2a22" stroke-width="0.05" textLength="124" lengthAdjust="spacingAndGlyphs">rdlolrl-IL, Hoak-J!</text>
<text x="126.5" y="735.9" style="font-family:'Liberation Sans';font-size:15px" fill="#22221c">6</text>
<text x="148" y="733.9" style="font-family:'Liberation Sans';font-size:9.5px" fill="#2a2a22" stroke="#2a2a22" stroke-width="0.05" textLength="47" lengthAdjust="spacingAndGlyphs">X  oIHL.J</text>
<text x="126.5" y="756.2" style="font-family:'Liberation Sans';font-size:15px" fill="#22221c">0</text>
<text x="148" y="754.2" style="font-family:'Liberation Sans';font-size:9.5px" fill="#2a2a22" stroke="#2a2a22" stroke-width="0.05" textLength="65" lengthAdjust="spacingAndGlyphs">w oI7o J.n-K</text>
<text x="126.5" y="779.1" style="font-family:'Liberation Sans';font-size:15px" fill="#22221c">6</text>
<text x="148" y="777.1" style="font-family:'Liberation Sans';font-size:9.5px" fill="#2a2a22" stroke="#2a2a22" stroke-width="0.05" textLength="67" lengthAdjust="spacingAndGlyphs">w oFFS ]n-1)</text>
<text x="126.5" y="800.2" style="font-family:'Liberation Sans';font-size:15px" fill="#22221c">0</text>
<text x="148" y="798.2" style="font-family:'Liberation Sans';font-size:9.5px" fill="#2a2a22" stroke="#2a2a22" stroke-width="0.05" textLength="65" lengthAdjust="spacingAndGlyphs">w oF7s J.n-K</text>
<text x="126.5" y="821.0" style="font-family:'Liberation Sans';font-size:15px" fill="#22221c">0</text>
<text x="148" y="819.0" style="font-family:'Liberation Sans';font-size:9.5px" fill="#2a2a22" stroke="#2a2a22" stroke-width="0.05" textLength="67" lengthAdjust="spacingAndGlyphs">w oI7o J.n-1)</text>
<text x="126.5" y="842.5" style="font-family:'Liberation Sans';font-size:15px" fill="#22221c">0</text>
<text x="148" y="840.5" style="font-family:'Liberation Sans';font-size:9.5px" fill="#2a2a22" stroke="#2a2a22" stroke-width="0.05" textLength="51" lengthAdjust="spacingAndGlyphs">r oFbs J.</text>
<text x="126.5" y="862.9" style="font-family:'Liberation Sans';font-size:15px" fill="#22221c">&amp;</text>
<text x="148" y="860.9" style="font-family:'Liberation Sans';font-size:9.5px" fill="#2a2a22" stroke="#2a2a22" stroke-width="0.05" textLength="5" lengthAdjust="spacingAndGlyphs">n</text>
<path d="M289 709.5 V731.7" stroke="#1c2a21" stroke-width="3.1" stroke-linecap="round"/>
<rect x="82.5" y="528.5" width="236.5" height="38.5" rx="19.2" fill="#223128"/>
<rect x="109" y="545.8" width="10.5" height="3.6" rx="1.6" fill="#f0a878"/>
<rect x="280.5" y="545.8" width="11.5" height="3.6" rx="1.6" fill="#f0a878"/>
<text x="131" y="553.5" style="font-family:'Liberation Sans';font-size:16.5px" fill="#f6f1e4" stroke="#f6f1e4" stroke-width="0.7" textLength="135" lengthAdjust="spacingAndGlyphs">Webpack build error</text>
<path d="M394 672.5 H590 a19.8 19.8 0 0 1 0 39.6 H521 L502 732 L484 712.1 H394 a19.8 19.8 0 0 1 0 -39.6 Z" fill="#223128"/>
<rect x="400.5" y="689.5" width="10" height="5" rx="2.5" fill="#f0a58a"/>
<text x="424.5" y="698" style="font-family:'Liberation Sans';font-size:16.5px" fill="#f6f1e4" stroke="#f6f1e4" stroke-width="0.7" textLength="135" lengthAdjust="spacingAndGlyphs">|Werbig overgap</text>
<path d="M575 686 h6 v3 h-6 z M572.5 690.5 h11.5 v4 h-11.5 z" fill="#f3e6c8"/>
<rect x="247.5" y="731.7" width="137.5" height="45" rx="22.5" fill="#223128"/>
<text x="274.5" y="763.5" style="font-family:'Liberation Sans';font-size:24px" fill="#f6f1e4" stroke="#f6f1e4" stroke-width="0.4" textLength="81" lengthAdjust="spacingAndGlyphs">Solution</text>
<path d="M789 836 H931 a9 9 0 0 1 9 9 V901.5 a9 9 0 0 1 -9 9 H902.2 L884 929.7 L862.4 910.5 H789 a9 9 0 0 1 -9 -9 V845 a9 9 0 0 1 9 -9 Z" fill="#223128"/>
<path d="M801.7 859 L829 884.5 M824 860.5 L808.5 876 M811.5 873 L797.6 886 H829.5" fill="none" stroke="#f6f1e4" stroke-width="2.4" stroke-linecap="round" stroke-linejoin="round"/>
<text x="838.3" y="870.7" style="font-family:'Liberation Sans';font-size:18px" fill="#f6f1e4" stroke="#f6f1e4" stroke-width="0.4" textLength="85.5" lengthAdjust="spacingAndGlyphs">Tainaind CS</text>
<text x="849" y="889" style="font-family:'Liberation Sans';font-size:15.5px;font-weight:bold" fill="#f6f1e4" textLength="75" lengthAdjust="spacingAndGlyphs">ouladdiaes</text>
<g stroke-linecap="round" fill="none">
<path d="M660 184 A12.5 12.5 0 1 1 664 207.5" stroke="#1c2a21" stroke-width="12"/>
<path d="M660 184 A12.5 12.5 0 1 1 664 207.5" stroke="#f4b95c" stroke-width="7"/>
<path d="M657 222 A13 13 0 1 1 650 200" stroke="#1c2a21" stroke-width="12"/>
<path d="M657 222 A13 13 0 1 1 650 200" stroke="#f4b95c" stroke-width="7"/>
</g>
<path d="M631.5 172.5 L657.5 173.5 L651 188 L647.5 188.5 Z" fill="#fbf6ea" stroke="#1c2a21" stroke-width="2.4" stroke-linejoin="round"/>
<path d="M659 218 L681.5 227.5 L660 228.5 Z" fill="#fbf6ea" stroke="#1c2a21" stroke-width="2.4" stroke-linejoin="round"/>
<path d="M642 183 L650 181 L683 216 L681 226 Z" fill="#fbf6ea"/>
<path d="M637 187 L681 226" stroke="#1c2a21" stroke-width="2.6" stroke-linecap="round"/>
<circle cx="680" cy="182" r="2.2" fill="#fff" stroke="#1c2a21" stroke-width="1.8"/>
<rect x="289.5" y="416.5" width="51.5" height="49.5" rx="8" fill="#fbfaf4" stroke="#1c2a21" stroke-width="3"/>
<polygon points="296,421.5 335,421.5 315.5,435.5" fill="#cfe9e6" stroke="#1c2a21" stroke-width="2" stroke-linejoin="round"/>
<polygon points="294,427 294,458 307,442.5" fill="#cfe9e6" stroke="#1c2a21" stroke-width="2" stroke-linejoin="round"/>
<polygon points="337.5,427 337.5,458 324.5,442.5" fill="#cfe9e6" stroke="#1c2a21" stroke-width="2" stroke-linejoin="round"/>
<polygon points="297.5,461.5 333.5,461.5 315.5,447" fill="#cfe9e6" stroke="#1c2a21" stroke-width="2" stroke-linejoin="round"/>
<rect x="415.5" y="747" width="66.5" height="53" rx="5" fill="#fbf7ec" stroke="#1c2a21" stroke-width="3"/>
<rect x="420" y="751" width="58" height="47.5" rx="2" fill="#2f5b5b"/>
<rect x="424" y="754.5" width="25" height="2" fill="#d8e6e0"/><rect x="452" y="754.5" width="22" height="2" fill="#d8e6e0"/>
<ellipse cx="430.5" cy="768.6" rx="6.2" ry="7" fill="#f4b98a" stroke="#1c2a21" stroke-width="1.4"/>
<ellipse cx="464.6" cy="768.3" rx="6.2" ry="7" fill="#f4b98a" stroke="#1c2a21" stroke-width="1.4"/>
<path d="M437.5 761 H459 L460 782 H437 Z" fill="#f6ead4" stroke="#1c2a21" stroke-width="1.2"/>
<circle cx="447.8" cy="771.6" r="4.5" fill="none" stroke="#1c2a21" stroke-width="1.8"/><path d="M445 776 L452 766" stroke="#1c2a21" stroke-width="1.6"/>
<rect x="427" y="787" width="42" height="6" fill="#6b8c86" opacity="0.8"/>
<path d="M413 800.5 H484 V804.5 Q484 807.5 481 807.5 H414 Q411 807.5 411 804.5 Z" fill="#fbf7ec" stroke="#1c2a21" stroke-width="2.4"/>
<circle cx="562.7" cy="794.5" r="34" fill="#fbf7ec" stroke="#1c2a21" stroke-width="3"/>
<circle cx="562.7" cy="794.5" r="31" fill="#6fbfe8"/>
<path d="M535 786 A29 29 0 0 1 575 767" fill="none" stroke="#e9f6fb" stroke-width="1.6"/>
<rect x="550.5" y="779.5" width="23.5" height="31" rx="7" fill="#e6f3f8" stroke="#1c2a21" stroke-width="2.6"/>
<path d="M557.5 788 H567 M557.5 801.3 H567" stroke="#1c2a21" stroke-width="2.4" stroke-linecap="round"/>
<path d="M529 794 L533.5 794 L532.5 803 Z M596 795 L600 801 L596 803 Z" fill="#1c2a21"/>
<rect x="529.5" y="848.5" width="72.5" height="44" rx="4" fill="#fbf7ec" stroke="#1c2a21" stroke-width="3"/>
<rect x="533.5" y="852.5" width="64.5" height="36" rx="1" fill="#1f2f25"/>
<rect x="571" y="857.6" width="11" height="1.8" fill="#c9d6c0" opacity="0.9"/>
<rect x="538" y="858.1" width="2" height="1.8" fill="#c9d6c0" opacity="0.9"/>
<rect x="538" y="864.6" width="18" height="1.8" fill="#c9d6c0" opacity="0.9"/>
<rect x="563" y="864.6" width="15" height="1.8" fill="#c9d6c0" opacity="0.9"/>
<rect x="586" y="863.1" width="8" height="1.8" fill="#c9d6c0" opacity="0.9"/>
<rect x="538" y="871.1" width="19" height="1.8" fill="#c9d6c0" opacity="0.9"/>
<rect x="563" y="870.6" width="30" height="1.8" fill="#c9d6c0" opacity="0.9"/>
<rect x="538" y="876.6" width="19" height="1.8" fill="#c9d6c0" opacity="0.9"/>
<rect x="563" y="876.6" width="26" height="1.8" fill="#c9d6c0" opacity="0.9"/>
<rect x="537" y="882.1" width="19" height="1.8" fill="#c9d6c0" opacity="0.9"/>
<rect x="563" y="881.6" width="25" height="1.8" fill="#c9d6c0" opacity="0.9"/>
<path d="M529.5 892.5 H602 L611 903.5 Q611 905.5 609 905.5 H521 Q519 905.5 519 903.5 Z" fill="#fbf7ec" stroke="#1c2a21" stroke-width="2.6" stroke-linejoin="round"/>
<rect x="550.5" y="896.5" width="25" height="4" fill="#1c2a21"/><rect x="531" y="896" width="14" height="3" rx="1.5" fill="#1c2a21" opacity="0.8"/><rect x="583" y="896" width="15" height="3" rx="1.5" fill="#1c2a21" opacity="0.8"/>
<rect x="637" y="783" width="55" height="124" rx="7" fill="#fbf8f0" stroke="#1c2a21" stroke-width="3"/>
<path d="M638.5 818.5 H690.5 V899 a6.5 6.5 0 0 1 -6.5 6.5 H645 a6.5 6.5 0 0 1 -6.5 -6.5 Z" fill="#73bde6"/>
<rect x="638.5" y="817" width="52" height="2.6" fill="#1c2a21"/>
<path d="M653 783 H675 V786 Q675 789 672 789 H656 Q653 789 653 786 Z" fill="#1c2a21"/>
<rect x="651.7" y="798" width="24.5" height="2.4" fill="#1c2a21"/>
<path d="M652.5 849 L672.7 869.6 M672.7 849 L652.5 869.6" stroke="#1c2a21" stroke-width="13.5" stroke-linecap="round"/>
<path d="M652.5 849 L672.7 869.6 M672.7 849 L652.5 869.6" stroke="#fbf8f0" stroke-width="9" stroke-linecap="round"/>
<path d="M734.5 679.7 L736.8 669.2 L743.4 669.2 L745.7 679.7 L755.4 684.4 L762.6 678.4 L767.5 683.9 L763.9 693.9 L769.1 705.8 L777.7 707.1 L778.8 715.5 L771.0 720.4 L769.2 733.8 L775.2 741.8 L772.0 749.2 L763.6 746.6 L755.6 755.4 L756.3 766.3 L750.1 769.2 L745.1 760.4 L734.8 760.4 L729.7 769.2 L723.6 766.2 L724.3 755.3 L716.3 746.5 L707.9 749.0 L704.7 741.6 L710.8 733.7 L709.0 720.2 L701.2 715.3 L702.3 706.9 L711.0 705.6 L716.2 693.8 L712.6 683.7 L717.6 678.3 L724.8 684.3 Z" transform="translate(10 8)" fill="#facd84"/>
<path d="M701.1 699.6 L705.9 694.7 L710.3 698.5 L708.5 705.9 L712.6 714.9 L718.6 716.5 L719.0 723.2 L713.2 725.9 L710.1 735.5 L712.8 742.5 L708.8 747.0 L703.5 743.0 L695.5 745.9 L692.8 753.0 L687.5 751.9 L686.6 744.2 L679.7 738.4 L673.7 740.2 L671.1 734.4 L675.3 728.7 L674.7 718.5 L669.9 713.7 L671.9 707.5 L678.1 708.2 L684.2 701.3 L684.2 693.5 L689.4 691.5 L692.8 698.0 Z" fill="#a39b84" stroke="#1c2a21" stroke-width="2.6" stroke-linejoin="round"/>
<path d="M676 718 L684 708 L688 712 L681 738 L674 735 Z" fill="#f6f1e6" opacity="0.85"/>
<ellipse cx="696.8" cy="729.8" rx="4.6" ry="5.6" fill="#1c2a21"/><ellipse cx="697.5" cy="731" rx="1.3" ry="2.2" fill="#fff"/>
<path d="M734.5 679.7 L736.8 669.2 L743.4 669.2 L745.7 679.7 L755.4 684.4 L762.6 678.4 L767.5 683.9 L763.9 693.9 L769.1 705.8 L777.7 707.1 L778.8 715.5 L771.0 720.4 L769.2 733.8 L775.2 741.8 L772.0 749.2 L763.6 746.6 L755.6 755.4 L756.3 766.3 L750.1 769.2 L745.1 760.4 L734.8 760.4 L729.7 769.2 L723.6 766.2 L724.3 755.3 L716.3 746.5 L707.9 749.0 L704.7 741.6 L710.8 733.7 L709.0 720.2 L701.2 715.3 L702.3 706.9 L711.0 705.6 L716.2 693.8 L712.6 683.7 L717.6 678.3 L724.8 684.3 Z" fill="#fdfbf6" stroke="#1c2a21" stroke-width="2.6" stroke-linejoin="round"/>
<circle cx="734.3" cy="705" r="8.2" fill="#f8d49a" stroke="#1c2a21" stroke-width="2.4"/>
<circle cx="748.9" cy="736.2" r="9.5" fill="#f8d49a" stroke="#1c2a21" stroke-width="2.4"/>
<path d="M716 717 Q722 715 727 718 L726 725 Q720 727 716 724 Z" fill="#f6c98a" opacity="0.8"/>
<rect x="696" y="741" width="34.5" height="22.5" rx="3.5" fill="#f5b75a" stroke="#1c2a21" stroke-width="2.6"/>
<path d="M94 765 L110.5 775 V864 L84 864 L80 842 H94 Z" fill="#facd84"/>
<path d="M82.8 732.3 L94 762.4 H71.5 Z" fill="#f5c88c" stroke="#1c2a21" stroke-width="2.4" stroke-linejoin="round"/>
<path d="M82.8 738 L82.8 761 H74 Z" fill="#fbf0dc"/>
<path d="M82.8 732.3 L85.6 740 H80 Z" fill="#1c2a21"/>
<rect x="71" y="762.4" width="23.2" height="79.3" rx="3.5" fill="#72c0ea" stroke="#1c2a21" stroke-width="2.6"/>
<rect x="73.5" y="765" width="5" height="74" rx="2" fill="#a8dcf4"/><rect x="81.3" y="764" width="1.8" height="76" fill="#1c2a21" opacity="0.75"/>
<g transform="translate(7 11)" fill="#facd84">
<path d="M66 868 C 70 860, 95 858, 112 860 C 130 862, 145 868, 156 874 L 158 884 C 140 878, 120 872, 99 872 C 85 872, 78 878, 68 878 C 62 876, 62 871, 66 868 Z"/>
<path d="M68 909 C 85 906, 105 906, 127 898 C 140 894, 150 890, 160 887 L 162 897 C 148 901, 140 906, 127 911.5 C 108 920, 88 925, 70 925.5 C 62 925, 60 912, 68 909 Z"/>
</g>
<path d="M154 871.5 C 178 865, 205 860, 248.4 865.2 C 236 870, 222 875.5, 206 880 L 178 887 Z" fill="#7cc6ea" stroke="#1c2a21" stroke-width="2.4" stroke-linejoin="round"/>
<path d="M160 889 C 185 884, 205 880, 247.2 884.6 C 232 889, 216 892, 198.6 893.6 L 158 896 Z" fill="#74bfe6" stroke="#1c2a21" stroke-width="2.4" stroke-linejoin="round"/>
<path d="M185 870 C 205 866, 225 864, 240 865.5" fill="none" stroke="#dff3fb" stroke-width="2.2" stroke-linecap="round"/>
<path d="M205 883 C 220 883, 232 884, 240 885" fill="none" stroke="#e8f6fb" stroke-width="1.8" stroke-linecap="round"/>
<path d="M66 868 C 70 860, 95 858, 112 860 C 130 862, 145 868, 156 874 L 158 884 C 140 878, 120 872, 99 872 C 85 872, 78 878, 68 878 C 62 876, 62 871, 66 868 Z" fill="#3f5a5e" stroke="#1c2a21" stroke-width="2.6" stroke-linejoin="round"/>
<path d="M68 909 C 85 906, 105 906, 127 898 C 140 894, 150 890, 160 887 L 162 897 C 148 901, 140 906, 127 911.5 C 108 920, 88 925, 70 925.5 C 62 925, 60 912, 68 909 Z" fill="#3f5a5e" stroke="#1c2a21" stroke-width="2.6" stroke-linejoin="round"/>
<path d="M70 866 C 85 861, 110 861, 140 868" fill="none" stroke="#cfe3e6" stroke-width="1.8" stroke-linecap="round"/>
<path d="M70 912 C 90 910, 110 908, 135 898" fill="none" stroke="#cfe3e6" stroke-width="1.8" stroke-linecap="round"/>
<circle cx="175.2" cy="881.8" r="4.2" fill="#fbf8f0" stroke="#1c2a21" stroke-width="2.4"/>
<circle cx="307.5" cy="877" r="28.5" fill="none" stroke="#1c2a21" stroke-width="22"/>
<circle cx="307.5" cy="877" r="28.5" fill="none" stroke="#34504c" stroke-width="18"/>
<circle cx="307.5" cy="877" r="21.5" fill="none" stroke="#1f3330" stroke-width="0.9" opacity="0.8"/>
<circle cx="307.5" cy="877" r="24.5" fill="none" stroke="#1f3330" stroke-width="0.9" opacity="0.8"/>
<circle cx="307.5" cy="877" r="27.5" fill="none" stroke="#1f3330" stroke-width="0.9" opacity="0.8"/>
<circle cx="307.5" cy="877" r="30.5" fill="none" stroke="#1f3330" stroke-width="0.9" opacity="0.8"/>
<circle cx="307.5" cy="877" r="33.5" fill="none" stroke="#1f3330" stroke-width="0.9" opacity="0.8"/>
<circle cx="307.5" cy="877" r="39" fill="none" stroke="#1c2a21" stroke-width="2.2"/>
<path d="M275 861 A37 37 0 0 1 304 840" fill="none" stroke="#d8e8e4" stroke-width="1.6" opacity="0.8"/>
<circle cx="307.5" cy="877" r="17.5" fill="#f9d59c" stroke="#1c2a21" stroke-width="2"/>
<path d="M336 846 L343 840 L350 852 L343 858 Z" fill="#3e6b5f" stroke="#1c2a21" stroke-width="1.8"/>
<path d="M333.4 834 L374.8 791.7 L367.8 831.6 L397.5 812 L357 861 Z" fill="#74bde6" stroke="#1c2a21" stroke-width="2.6" stroke-linejoin="round"/>
<path d="M338 833 L370 800" stroke="#d2eefa" stroke-width="1.6"/>
<rect x="860.5" y="725.5" width="79.5" height="68.5" rx="6" fill="url(#env)" stroke="#1c2a21" stroke-width="2.8"/>
<path d="M863.5 729.5 L900.25 773.5 L937 729.5 Z" fill="#b9e3f5"/>
<path d="M870.5 729.5 L900.25 755.26 L930 729.5 Z" fill="#79c2ea"/>
<path d="M862.5 729.5 L900.25 773.5 L938 729.5" fill="none" stroke="#1c2a21" stroke-width="2.4" stroke-linejoin="round"/>
<path d="M864.5 791 L894.25 775.5 M936 791 L906.25 775.5" stroke="#5aa6d3" stroke-width="1" opacity="0.6"/>
<g fill="none" stroke-linecap="round">
<path d="M806 826 Q808 780 826 760" stroke="#f2c27c" stroke-width="5" opacity="0.7"/>
<path d="M795.5 828 V812 Q796 762 852 743.5" stroke="#1c2a21" stroke-width="2.4"/>
<path d="M804 800 Q812 768 859 763" stroke="#1c2a21" stroke-width="2.4"/>
<path d="M797 818 Q820 806 848 805" stroke="#8f9a7a" stroke-width="2.4"/>
<path d="M797 798 Q808 796 812 787" stroke="#8f9a7a" stroke-width="2"/>
</g>
<path d="M840 803 L849 801 L846 810 L838 810 Z" fill="#3f8f96" stroke="#1c2a21" stroke-width="0.8"/>
<circle cx="608.8" cy="129.2" r="0.75" fill="#3a3a30"/>
<circle cx="612.6" cy="130.8" r="0.75" fill="#3a3a30"/>
<circle cx="611.7" cy="127.4" r="0.75" fill="#3a3a30"/>
<circle cx="614.6" cy="129.3" r="0.75" fill="#3a3a30"/>
<circle cx="613.8" cy="125.5" r="0.75" fill="#3a3a30"/>
<circle cx="617.3" cy="126.7" r="0.75" fill="#3a3a30"/>
<circle cx="617.0" cy="123.9" r="0.75" fill="#3a3a30"/>
<circle cx="620.1" cy="124.8" r="0.75" fill="#3a3a30"/>
<circle cx="620.0" cy="122.0" r="0.75" fill="#3a3a30"/>
<circle cx="623.3" cy="123.0" r="0.75" fill="#3a3a30"/>
<circle cx="623.1" cy="118.8" r="0.75" fill="#3a3a30"/>
<circle cx="626.4" cy="120.8" r="0.75" fill="#3a3a30"/>
<circle cx="624.8" cy="116.9" r="0.75" fill="#3a3a30"/>
<circle cx="628.4" cy="119.4" r="0.75" fill="#3a3a30"/>
<circle cx="627.6" cy="115.4" r="0.75" fill="#3a3a30"/>
<circle cx="631.5" cy="116.8" r="0.75" fill="#3a3a30"/>
<circle cx="630.7" cy="112.7" r="0.75" fill="#3a3a30"/>
<circle cx="633.5" cy="114.5" r="0.75" fill="#3a3a30"/>
<circle cx="633.6" cy="111.1" r="0.75" fill="#3a3a30"/>
<circle cx="636.5" cy="112.9" r="0.75" fill="#3a3a30"/>
<circle cx="636.0" cy="108.9" r="0.75" fill="#3a3a30"/>
<circle cx="639.8" cy="111.0" r="0.75" fill="#3a3a30"/>
<circle cx="120.4" cy="606.6" r="0.75" fill="#3a3a30"/>
<circle cx="123.8" cy="608.9" r="0.75" fill="#3a3a30"/>
<circle cx="124.3" cy="611.7" r="0.75" fill="#3a3a30"/>
<circle cx="127.6" cy="613.5" r="0.75" fill="#3a3a30"/>
<circle cx="127.2" cy="617.8" r="0.75" fill="#3a3a30"/>
<circle cx="123.1" cy="604.8" r="0.75" fill="#3a3a30"/>
<circle cx="125.9" cy="607.0" r="0.75" fill="#3a3a30"/>
<circle cx="127.1" cy="610.5" r="0.75" fill="#3a3a30"/>
<circle cx="130.2" cy="612.1" r="0.75" fill="#3a3a30"/>
<circle cx="130.3" cy="616.0" r="0.75" fill="#3a3a30"/>
<circle cx="126.3" cy="603.2" r="0.75" fill="#3a3a30"/>
<circle cx="129.7" cy="605.7" r="0.75" fill="#3a3a30"/>
<circle cx="129.5" cy="608.9" r="0.75" fill="#3a3a30"/>
<circle cx="132.0" cy="610.9" r="0.75" fill="#3a3a30"/>
<circle cx="132.9" cy="614.8" r="0.75" fill="#3a3a30"/>
<circle cx="129.4" cy="601.3" r="0.75" fill="#3a3a30"/>
<circle cx="131.9" cy="603.7" r="0.75" fill="#3a3a30"/>
<circle cx="131.7" cy="607.1" r="0.75" fill="#3a3a30"/>
<circle cx="134.9" cy="608.6" r="0.75" fill="#3a3a30"/>
<circle cx="135.0" cy="612.9" r="0.75" fill="#3a3a30"/>
<circle cx="131.3" cy="599.7" r="0.75" fill="#3a3a30"/>
<circle cx="134.6" cy="602.3" r="0.75" fill="#3a3a30"/>
<circle cx="134.5" cy="605.4" r="0.75" fill="#3a3a30"/>
<circle cx="138.1" cy="607.9" r="0.75" fill="#3a3a30"/>
<circle cx="138.7" cy="611.4" r="0.75" fill="#3a3a30"/>
<circle cx="134.2" cy="598.2" r="0.75" fill="#3a3a30"/>
<circle cx="137.3" cy="600.7" r="0.75" fill="#3a3a30"/>
<circle cx="138.3" cy="603.4" r="0.75" fill="#3a3a30"/>
<circle cx="140.4" cy="605.4" r="0.75" fill="#3a3a30"/>
<circle cx="140.7" cy="609.3" r="0.75" fill="#3a3a30"/>
<circle cx="137.3" cy="596.4" r="0.75" fill="#3a3a30"/>
<circle cx="139.7" cy="598.5" r="0.75" fill="#3a3a30"/>
<circle cx="140.4" cy="602.3" r="0.75" fill="#3a3a30"/>
<circle cx="144.1" cy="604.4" r="0.75" fill="#3a3a30"/>
<circle cx="143.8" cy="607.8" r="0.75" fill="#3a3a30"/>
<circle cx="140.2" cy="594.5" r="0.75" fill="#3a3a30"/>
<circle cx="143.5" cy="597.3" r="0.75" fill="#3a3a30"/>
<circle cx="143.7" cy="600.9" r="0.75" fill="#3a3a30"/>
<circle cx="146.1" cy="602.4" r="0.75" fill="#3a3a30"/>
<circle cx="146.1" cy="606.2" r="0.75" fill="#3a3a30"/>
<circle cx="142.2" cy="592.9" r="0.75" fill="#3a3a30"/>
<circle cx="145.4" cy="595.0" r="0.75" fill="#3a3a30"/>
<circle cx="145.8" cy="598.4" r="0.75" fill="#3a3a30"/>
<circle cx="148.4" cy="600.4" r="0.75" fill="#3a3a30"/>
<circle cx="148.8" cy="604.3" r="0.75" fill="#3a3a30"/>
<circle cx="144.9" cy="592.2" r="0.75" fill="#3a3a30"/>
<circle cx="148.6" cy="593.3" r="0.75" fill="#3a3a30"/>
<circle cx="148.5" cy="597.1" r="0.75" fill="#3a3a30"/>
<circle cx="151.6" cy="598.8" r="0.75" fill="#3a3a30"/>
<circle cx="152.4" cy="603.4" r="0.75" fill="#3a3a30"/>
<circle cx="148.2" cy="590.1" r="0.75" fill="#3a3a30"/>
<circle cx="150.8" cy="591.6" r="0.75" fill="#3a3a30"/>
<circle cx="151.3" cy="595.4" r="0.75" fill="#3a3a30"/>
<circle cx="154.9" cy="597.2" r="0.75" fill="#3a3a30"/>
<circle cx="154.2" cy="601.7" r="0.75" fill="#3a3a30"/>
<circle cx="151.0" cy="588.1" r="0.75" fill="#3a3a30"/>
<circle cx="154.1" cy="589.9" r="0.75" fill="#3a3a30"/>
<circle cx="154.3" cy="594.6" r="0.75" fill="#3a3a30"/>
<circle cx="157.7" cy="596.2" r="0.75" fill="#3a3a30"/>
<circle cx="157.2" cy="599.4" r="0.75" fill="#3a3a30"/>
<circle cx="592.7" cy="752.8" r="0.75" fill="#3a3a30"/>
<circle cx="596.2" cy="754.1" r="0.75" fill="#3a3a30"/>
<circle cx="596.8" cy="756.7" r="0.75" fill="#3a3a30"/>
<circle cx="600.5" cy="758.9" r="0.75" fill="#3a3a30"/>
<circle cx="601.3" cy="761.9" r="0.75" fill="#3a3a30"/>
<circle cx="595.7" cy="750.8" r="0.75" fill="#3a3a30"/>
<circle cx="598.1" cy="751.8" r="0.75" fill="#3a3a30"/>
<circle cx="599.1" cy="754.5" r="0.75" fill="#3a3a30"/>
<circle cx="601.8" cy="756.1" r="0.75" fill="#3a3a30"/>
<circle cx="602.9" cy="759.8" r="0.75" fill="#3a3a30"/>
<circle cx="598.2" cy="748.5" r="0.75" fill="#3a3a30"/>
<circle cx="601.2" cy="750.4" r="0.75" fill="#3a3a30"/>
<circle cx="602.1" cy="752.9" r="0.75" fill="#3a3a30"/>
<circle cx="604.3" cy="754.0" r="0.75" fill="#3a3a30"/>
<circle cx="605.1" cy="757.3" r="0.75" fill="#3a3a30"/>
<circle cx="600.0" cy="747.1" r="0.75" fill="#3a3a30"/>
<circle cx="603.4" cy="747.8" r="0.75" fill="#3a3a30"/>
<circle cx="604.0" cy="751.5" r="0.75" fill="#3a3a30"/>
<circle cx="606.4" cy="752.6" r="0.75" fill="#3a3a30"/>
<circle cx="608.2" cy="756.0" r="0.75" fill="#3a3a30"/>
<circle cx="602.5" cy="744.6" r="0.75" fill="#3a3a30"/>
<circle cx="604.9" cy="746.3" r="0.75" fill="#3a3a30"/>
<circle cx="605.9" cy="749.5" r="0.75" fill="#3a3a30"/>
<circle cx="609.7" cy="750.3" r="0.75" fill="#3a3a30"/>
<circle cx="609.9" cy="754.2" r="0.75" fill="#3a3a30"/>
<circle cx="604.7" cy="742.3" r="0.75" fill="#3a3a30"/>
<circle cx="607.1" cy="743.5" r="0.75" fill="#3a3a30"/>
<circle cx="608.8" cy="747.6" r="0.75" fill="#3a3a30"/>
<circle cx="611.0" cy="748.9" r="0.75" fill="#3a3a30"/>
<circle cx="612.9" cy="751.9" r="0.75" fill="#3a3a30"/>
<circle cx="606.5" cy="740.8" r="0.75" fill="#3a3a30"/>
<circle cx="609.4" cy="741.4" r="0.75" fill="#3a3a30"/>
<circle cx="611.2" cy="745.4" r="0.75" fill="#3a3a30"/>
<circle cx="613.8" cy="747.0" r="0.75" fill="#3a3a30"/>
<circle cx="614.5" cy="750.2" r="0.75" fill="#3a3a30"/>
<circle cx="609.4" cy="738.4" r="0.75" fill="#3a3a30"/>
<circle cx="611.8" cy="739.8" r="0.75" fill="#3a3a30"/>
<circle cx="612.6" cy="743.4" r="0.75" fill="#3a3a30"/>
<circle cx="615.7" cy="744.5" r="0.75" fill="#3a3a30"/>
<circle cx="616.4" cy="748.3" r="0.75" fill="#3a3a30"/>
<circle cx="611.1" cy="736.7" r="0.75" fill="#3a3a30"/>
<circle cx="614.4" cy="738.5" r="0.75" fill="#3a3a30"/>
<circle cx="615.1" cy="741.8" r="0.75" fill="#3a3a30"/>
<circle cx="618.3" cy="742.6" r="0.75" fill="#3a3a30"/>
<circle cx="619.1" cy="745.3" r="0.75" fill="#3a3a30"/>
<circle cx="613.4" cy="734.4" r="0.75" fill="#3a3a30"/>
<circle cx="616.0" cy="736.5" r="0.75" fill="#3a3a30"/>
<circle cx="617.0" cy="739.3" r="0.75" fill="#3a3a30"/>
<circle cx="620.8" cy="740.7" r="0.75" fill="#3a3a30"/>
<circle cx="621.1" cy="743.9" r="0.75" fill="#3a3a30"/>
<circle cx="919.8" cy="709.4" r="0.75" fill="#3a3a30"/>
<circle cx="922.1" cy="711.0" r="0.75" fill="#3a3a30"/>
<circle cx="922.4" cy="714.0" r="0.75" fill="#3a3a30"/>
<circle cx="925.9" cy="716.2" r="0.75" fill="#3a3a30"/>
<circle cx="922.4" cy="707.9" r="0.75" fill="#3a3a30"/>
<circle cx="925.7" cy="709.4" r="0.75" fill="#3a3a30"/>
<circle cx="925.5" cy="712.8" r="0.75" fill="#3a3a30"/>
<circle cx="928.2" cy="714.9" r="0.75" fill="#3a3a30"/>
<circle cx="924.9" cy="706.2" r="0.75" fill="#3a3a30"/>
<circle cx="927.7" cy="708.5" r="0.75" fill="#3a3a30"/>
<circle cx="928.2" cy="711.8" r="0.75" fill="#3a3a30"/>
<circle cx="931.3" cy="712.9" r="0.75" fill="#3a3a30"/>
<circle cx="927.7" cy="705.2" r="0.75" fill="#3a3a30"/>
<circle cx="930.8" cy="706.1" r="0.75" fill="#3a3a30"/>
<circle cx="930.1" cy="709.8" r="0.75" fill="#3a3a30"/>
<circle cx="932.8" cy="711.4" r="0.75" fill="#3a3a30"/>
<circle cx="929.7" cy="703.3" r="0.75" fill="#3a3a30"/>
<circle cx="933.3" cy="705.5" r="0.75" fill="#3a3a30"/>
<circle cx="932.7" cy="708.6" r="0.75" fill="#3a3a30"/>
<circle cx="936.1" cy="709.8" r="0.75" fill="#3a3a30"/>
<circle cx="933.3" cy="702.2" r="0.75" fill="#3a3a30"/>
<circle cx="935.2" cy="704.1" r="0.75" fill="#3a3a30"/>
<circle cx="935.6" cy="706.8" r="0.75" fill="#3a3a30"/>
<circle cx="939.1" cy="709.1" r="0.75" fill="#3a3a30"/>
<circle cx="935.0" cy="700.1" r="0.75" fill="#3a3a30"/>
<circle cx="938.2" cy="701.8" r="0.75" fill="#3a3a30"/>
<circle cx="938.0" cy="705.2" r="0.75" fill="#3a3a30"/>
<circle cx="941.4" cy="706.7" r="0.75" fill="#3a3a30"/>
<circle cx="938.1" cy="698.6" r="0.75" fill="#3a3a30"/>
<circle cx="940.2" cy="700.3" r="0.75" fill="#3a3a30"/>
<circle cx="941.1" cy="703.9" r="0.75" fill="#3a3a30"/>
<circle cx="943.2" cy="706.3" r="0.75" fill="#3a3a30"/>
<circle cx="941.0" cy="697.8" r="0.75" fill="#3a3a30"/>
<circle cx="942.9" cy="698.8" r="0.75" fill="#3a3a30"/>
<circle cx="943.0" cy="702.7" r="0.75" fill="#3a3a30"/>
<circle cx="946.1" cy="703.8" r="0.75" fill="#3a3a30"/>
<circle cx="943.1" cy="696.2" r="0.75" fill="#3a3a30"/>
<circle cx="946.4" cy="697.3" r="0.75" fill="#3a3a30"/>
<circle cx="945.8" cy="701.4" r="0.75" fill="#3a3a30"/>
<circle cx="949.1" cy="703.0" r="0.75" fill="#3a3a30"/>
<circle cx="945.3" cy="693.7" r="0.75" fill="#3a3a30"/>
<circle cx="948.8" cy="696.0" r="0.75" fill="#3a3a30"/>
<circle cx="948.3" cy="699.9" r="0.75" fill="#3a3a30"/>
<circle cx="951.7" cy="701.6" r="0.75" fill="#3a3a30"/>
<path d="M86.0 287 H95.0 M90.5 282.5 V291.5" stroke="#1c2a21" stroke-width="2.2" stroke-linecap="round"/>
<path d="M141.8 293.5 H150.2 M146 289.3 V297.7" stroke="#1c2a21" stroke-width="2.2" stroke-linecap="round"/>
<path d="M620.5 304.5 Q621.5 308 625.0 309 Q621.5 310 620.5 313.5 Q619.5 310 616.0 309 Q619.5 308 620.5 304.5 Z" fill="#1c2a21" stroke="#1c2a21" stroke-width="1" stroke-linejoin="round"/>
<path d="M363.5 591.0 Q364.5 594.5 368.0 595.5 Q364.5 596.5 363.5 600.0 Q362.5 596.5 359.0 595.5 Q362.5 594.5 363.5 591.0 Z" fill="#1c2a21" stroke="#1c2a21" stroke-width="1" stroke-linejoin="round"/>
<path d="M745 901 Q746 905 750 906 Q746 907 745 911 Q744 907 740 906 Q744 905 745 901 Z" fill="none" stroke="#1c2a21" stroke-width="1.6" stroke-linejoin="round"/>
<ellipse cx="348" cy="104" rx="3.2" ry="4" fill="#f0b860"/>
<path d="M682 95 L684.5 96 L684.5 108 L681 108 L680 102 L677 100 Z" fill="#f2b860"/>
<path d="M890.5 309 L901 297 L912 309 L912 317 L891 317 Z" fill="#f2bc62"/>
<path d="M896 309.5 L901 304 L906 309.5 Z" fill="#fdf2dc"/>
<path d="M122 500 L138 506 L128 510 Z" fill="#f6c98a"/>
<path d="M108.5 484.5 L124 497.5 L108.5 505 Z" fill="#8cc8c4" stroke="#1c2a21" stroke-width="2.6" stroke-linejoin="round"/>
<path d="M111.5 490 L118 497.5 L111.5 500 Z" fill="#c8ece8"/>
<rect x="151" y="487" width="6" height="6" rx="1" fill="#ec8a62"/>
<rect x="172.8" y="484" width="4.6" height="5.5" rx="1" fill="#4fb3b8"/><rect x="172.8" y="495.5" width="4.6" height="5.5" rx="1" fill="#4fb3b8"/>
<path d="M84 596 L92 588 L100 586 L104 592 L101 602 L97 610 L88 609 L86 602 Z" fill="#f2be6a"/>
<path d="M90 599 L96 594 L99 601 Z" fill="#fde7bb"/>
<path d="M81.5 689 L87 692.5 L81.5 696 Z M92 689.5 L87 692.5 L92 695.5" fill="#1c2a21" stroke="#1c2a21" stroke-width="1.6" stroke-linejoin="round"/>
<rect x="234" y="587" width="47.5" height="14" rx="7" fill="#f7c67e"/>
<rect x="244" y="592.5" width="30" height="3" rx="1.5" fill="#fbe0b0"/>
<path d="M351.5 645 L353.5 652 L351.5 660 L349.5 652 Z" fill="#f2b860"/>
<circle cx="650" cy="684" r="3.6" fill="#f0b060"/>
<circle cx="645.6" cy="747.6" r="7" fill="none" stroke="#ee9a70" stroke-width="4.2"/>
<path d="M812.6 708 L819 715 L812.6 722 L806.2 715 Z" fill="#fdfaf0" stroke="#1c2a21" stroke-width="2.8" stroke-linejoin="round"/>
</svg>
</body></html>
